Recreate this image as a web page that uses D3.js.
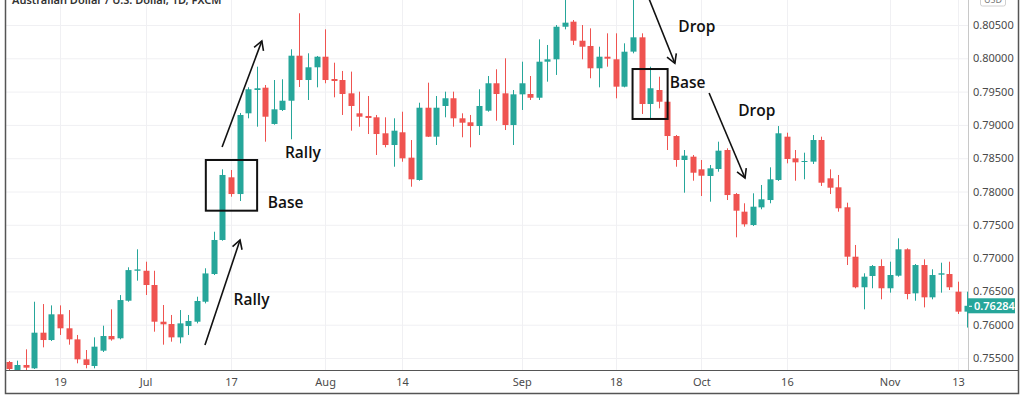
<!DOCTYPE html>
<html>
<head>
<meta charset="utf-8">
<script src="https://cdn.jsdelivr.net/npm/d3@7"></script>
<style>
  body { margin: 0; background: #fff; }
  svg { display: block; }
</style>
</head>
<body>
<div id="chart"></div>
<script>

// daily AUD/USD candles, one per trading day (Jun 9 .. Nov 14)
var opens = [0.75440,0.75320,0.75395,0.75345,0.75880,0.75770,0.76156,0.75946,0.75780,0.75480,
  0.75380,0.75610,0.75830,0.75796,0.76360,0.76810,0.76810,0.76596,0.76045,0.76010,
  0.75810,0.75980,0.76045,0.76345,0.76761,0.77272,0.78213,0.77962,0.79174,0.79524,
  0.79559,0.79014,0.79224,0.79363,0.80039,0.79674,0.79865,0.80024,0.79689,0.79674,
  0.79474,0.79174,0.79134,0.79114,0.78874,0.78698,0.78889,0.78508,0.78173,0.79258,
  0.78823,0.79284,0.79400,0.79099,0.79039,0.78983,0.79213,0.79625,0.79474,0.78998,
  0.79459,0.79464,0.79408,0.79949,0.79985,0.80474,0.80550,0.80264,0.80185,0.79850,
  0.80024,0.79985,0.79574,0.80100,0.80315,0.79314,0.79524,0.79348,0.78833,0.78473,
  0.78523,0.78333,0.78233,0.78338,0.78623,0.77962,0.77697,0.77497,0.77762,0.77872,
  0.78173,0.78823,0.78498,0.78443,0.78448,0.78773,0.78198,0.78063,0.77763,0.77021,
  0.76562,0.76731,0.76881,0.76547,0.76736,0.77132,0.76471,0.76896,0.76411,0.76751,
  0.76761,0.76496,0.76196];
var highs = [0.75455,0.75460,0.75630,0.76345,0.76310,0.76290,0.76290,0.76220,0.75846,0.75620,
  0.75810,0.75985,0.76231,0.76445,0.76862,0.77132,0.76946,0.76810,0.76296,0.76146,
  0.76220,0.76146,0.76420,0.76847,0.77396,0.78333,0.78323,0.79179,0.79565,0.79874,
  0.79599,0.79674,0.79685,0.80135,0.80676,0.80075,0.80035,0.80435,0.79934,0.79810,
  0.79800,0.79499,0.79434,0.79149,0.79114,0.79099,0.79198,0.78773,0.79333,0.79634,
  0.79434,0.79499,0.79499,0.79174,0.79149,0.79535,0.79734,0.79835,0.80000,0.79524,
  0.79949,0.79734,0.80285,0.80200,0.80500,0.80875,0.80575,0.80500,0.80450,0.80174,
  0.80375,0.80375,0.80225,0.80875,0.80375,0.79874,0.79724,0.79374,0.78848,0.78623,
  0.78548,0.78473,0.78398,0.78748,0.78649,0.77977,0.77823,0.77973,0.78098,0.78363,
  0.78983,0.78883,0.78623,0.78583,0.78848,0.78823,0.78333,0.78248,0.77832,0.77197,
  0.76772,0.76896,0.76982,0.76946,0.77297,0.77147,0.76911,0.76982,0.76832,0.76931,
  0.76946,0.76646,0.76496];
var lows = [0.75320,0.75320,0.75320,0.75335,0.75660,0.75755,0.75846,0.75700,0.75420,0.75345,
  0.75345,0.75590,0.75760,0.75780,0.76345,0.76661,0.76446,0.75895,0.75700,0.75745,
  0.75720,0.75846,0.76020,0.76320,0.76746,0.77261,0.77922,0.77857,0.79099,0.78973,
  0.78748,0.79003,0.79209,0.78784,0.79569,0.79374,0.79564,0.79625,0.79414,0.79149,
  0.78913,0.78973,0.78863,0.78548,0.78663,0.78372,0.78447,0.78072,0.78162,0.78818,
  0.78698,0.79114,0.78973,0.78814,0.78663,0.78848,0.79198,0.79063,0.78923,0.78698,
  0.79224,0.79374,0.79374,0.79649,0.79750,0.80435,0.80200,0.79985,0.79700,0.79564,
  0.79874,0.79399,0.79564,0.80075,0.79164,0.79084,0.79249,0.78623,0.78372,0.77982,
  0.78162,0.77932,0.77847,0.78297,0.77872,0.77312,0.77472,0.77482,0.77733,0.77823,
  0.78158,0.78423,0.78162,0.78183,0.78413,0.78083,0.77962,0.77697,0.76896,0.76547,
  0.76231,0.76547,0.76381,0.76481,0.76721,0.76381,0.76360,0.76260,0.76381,0.76481,
  0.76521,0.76161,0.75957];
var closes = [0.75335,0.75395,0.75355,0.75880,0.75770,0.76156,0.75946,0.75780,0.75480,0.75395,
  0.75670,0.75830,0.75780,0.76370,0.76820,0.76830,0.76596,0.76045,0.76006,0.75810,
  0.76020,0.76056,0.76356,0.76770,0.77272,0.78248,0.77962,0.79149,0.79535,0.79550,
  0.79123,0.79234,0.79363,0.80039,0.79674,0.79865,0.80024,0.79674,0.79659,0.79464,
  0.79284,0.79123,0.79104,0.78863,0.78698,0.78913,0.78498,0.78183,0.79258,0.78823,
  0.79258,0.79400,0.79099,0.79033,0.78983,0.79284,0.79625,0.79464,0.78998,0.79459,
  0.79625,0.79408,0.79949,0.79985,0.80474,0.80535,0.80264,0.80174,0.79850,0.80024,
  0.79994,0.79574,0.80099,0.80315,0.79314,0.79550,0.79348,0.78833,0.78473,0.78538,
  0.78282,0.78237,0.78348,0.78613,0.77947,0.77712,0.77507,0.77772,0.77883,0.78183,
  0.78874,0.78488,0.78438,0.78458,0.78773,0.78132,0.78057,0.77748,0.77021,0.76562,
  0.76721,0.76881,0.76547,0.76746,0.77132,0.76461,0.76896,0.76411,0.76746,0.76772,
  0.76562,0.76196,0.76284];

var priceTicks = [0.755,0.760,0.765,0.770,0.775,0.780,0.785,0.790,0.795,0.800,0.805];
var dateTickIdx = [6,16,26,37,46,60,71,81,91,103,111];
var dateTickLabels = ["19","Jul","17","Aug","14","Sep","18","Oct","16","Nov","13"];
var lastPrice = 0.76284;

// hand drawn notes, in [candle index, price]
var boxes = [
  {x0: 23.05, x1: 29.05, p0: 0.78473, p1: 0.77712},
  {x0: 72.95, x1: 77.05, p0: 0.79839, p1: 0.79089}
];
var arrows = [
  {from: [22.95, 0.75695], to: [27.05, 0.77272]},
  {from: [24.95, 0.78668], to: [29.6, 0.80260]},
  {from: [74.7, 0.80950], to: [77.9, 0.79925]},
  {from: [81.9, 0.79479], to: [86.1, 0.78203]}
];
var notes = [
  {text: "Rally", i: 26.3, p: 0.76371},
  {text: "Base",  i: 30.3, p: 0.77827},
  {text: "Rally", i: 32.3, p: 0.78578},
  {text: "Drop",  i: 78.3, p: 0.80470},
  {text: "Base",  i: 77.3, p: 0.79629},
  {text: "Drop",  i: 85.3, p: 0.79209}
];

var W = 1024, H = 395;
var plotLeft = 5, plotRight = 968, plotBottom = 370;
var up = "#26a69a", down = "#ef5350";

var svg = d3.select("#chart").append("svg")
  .attr("width", W).attr("height", H);

var x = d3.scaleLinear().domain([0, opens.length - 1]).range([8.7, 966.5]);
var y = d3.scaleLinear().domain([0.755, 0.805]).range([358, 25]);

// grid
svg.append("g").selectAll("line.h").data(priceTicks).enter().append("line")
  .attr("x1", plotLeft).attr("x2", plotRight)
  .attr("y1", function(d) { return y(d) + 0.5 })
  .attr("y2", function(d) { return y(d) + 0.5 })
  .attr("stroke", "#f0f0f3").attr("stroke-width", 1);
svg.append("g").selectAll("line.v").data(dateTickIdx).enter().append("line")
  .attr("x1", function(d) { return Math.round(x(d)) + 0.5 })
  .attr("x2", function(d) { return Math.round(x(d)) + 0.5 })
  .attr("y1", 0).attr("y2", plotBottom)
  .attr("stroke", "#f0f0f3").attr("stroke-width", 1);

// candles
var candles = svg.append("g").selectAll("g").data(opens).enter().append("g");
candles.append("line")
  .attr("x1", function(d, i) { return Math.round(x(i)) + 0.5 })
  .attr("x2", function(d, i) { return Math.round(x(i)) + 0.5 })
  .attr("y1", function(d, i) { return y(highs[i]) })
  .attr("y2", function(d, i) { return y(lows[i]) })
  .attr("stroke", function(d, i) { return closes[i] >= d ? up : down })
  .attr("stroke-width", 1);
candles.append("rect")
  .attr("x", function(d, i) { return Math.round(x(i)) - 2.5 })
  .attr("width", 6)
  .attr("y", function(d, i) { return y(Math.max(d, closes[i])) })
  .attr("height", function(d, i) { return Math.max(1, Math.abs(y(d) - y(closes[i]))) })
  .attr("fill", function(d, i) { return closes[i] >= d ? up : down });

// price axis
svg.append("line")
  .attr("x1", plotRight + 0.5).attr("x2", plotRight + 0.5)
  .attr("y1", 0).attr("y2", plotBottom)
  .attr("stroke", "#c8c8c8");
var yAxis = svg.append("g")
  .attr("transform", "translate(" + plotRight + ",0)")
  .call(d3.axisRight(y).tickValues(priceTicks).tickSize(0).tickPadding(5)
    .tickFormat(d3.format(".5f")));
yAxis.select(".domain").remove();
yAxis.selectAll("text")
  .attr("font-family", "'Noto Sans', sans-serif").attr("font-size", 11)
  .attr("fill", "#4a4a4a");

// last price tag
var tag = svg.append("g").attr("transform", "translate(" + plotRight + "," + y(lastPrice) + ")");
tag.append("rect").attr("x", 0).attr("y", -7.5).attr("width", 47).attr("height", 15)
  .attr("fill", up);
tag.append("line").attr("x1", 1).attr("x2", 4).attr("y1", 0.5).attr("y2", 0.5)
  .attr("stroke", "#fff");
tag.append("text").attr("x", 6).attr("y", 0).attr("dy", "0.35em")
  .attr("font-family", "'Noto Sans', sans-serif").attr("font-size", 11)
  .attr("font-weight", 600).attr("fill", "#fff")
  .text(d3.format(".5f")(lastPrice));

// time axis
var xAxis = svg.append("g")
  .attr("transform", "translate(0," + plotBottom + ")")
  .call(d3.axisBottom(x).tickValues(dateTickIdx).tickSize(0).tickPadding(8)
    .tickFormat(function(d, i) { return dateTickLabels[i] }));
xAxis.select(".domain").remove();
xAxis.selectAll("text")
  .attr("font-family", "'Noto Sans', sans-serif").attr("font-size", 11)
  .attr("fill", "#4a4a4a");
svg.append("line")
  .attr("x1", plotLeft).attr("x2", 1018)
  .attr("y1", plotBottom + 0.5).attr("y2", plotBottom + 0.5)
  .attr("stroke", "#555").attr("stroke-width", 1.2);

// frame of the screenshot
svg.append("path")
  .attr("d", "M5.5,0 V393.5 H1018.5 V0")
  .attr("fill", "none").attr("stroke", "#555").attr("stroke-width", 1.5);

// header, cut by the top edge
svg.append("text").attr("x", 12).attr("y", 4)
  .attr("font-family", "'Noto Sans', sans-serif").attr("font-size", 11)
  .attr("font-weight", 600).attr("fill", "#333")
  .text("Australian Dollar / U.S. Dollar, 1D, FXCM");
svg.append("rect").attr("x", 980.5).attr("y", -8).attr("width", 25).attr("height", 14)
  .attr("rx", 2).attr("fill", "#fff").attr("stroke", "#d0d0d0");
svg.append("text").attr("x", 993).attr("y", 3).attr("text-anchor", "middle")
  .attr("font-family", "'Noto Sans', sans-serif").attr("font-size", 9)
  .attr("fill", "#777").text("USD");

// annotations
var notesG = svg.append("g");
notesG.selectAll("rect").data(boxes).enter().append("rect")
  .attr("x", function(d) { return x(d.x0) })
  .attr("y", function(d) { return y(d.p0) })
  .attr("width", function(d) { return x(d.x1) - x(d.x0) })
  .attr("height", function(d) { return y(d.p1) - y(d.p0) })
  .attr("fill", "none").attr("stroke", "#111").attr("stroke-width", 2);

arrows.forEach(function(a) {
  var x1 = x(a.from[0]), y1 = y(a.from[1]);
  var x2 = x(a.to[0]), y2 = y(a.to[1]);
  var ang = Math.atan2(y2 - y1, x2 - x1);
  var len = 10, spread = Math.PI / 6;
  notesG.append("line")
    .attr("x1", x1).attr("y1", y1).attr("x2", x2).attr("y2", y2)
    .attr("stroke", "#111").attr("stroke-width", 1.6);
  notesG.append("path")
    .attr("d", "M" + (x2 - len * Math.cos(ang - spread)) + "," + (y2 - len * Math.sin(ang - spread)) +
      " L" + x2 + "," + y2 +
      " L" + (x2 - len * Math.cos(ang + spread)) + "," + (y2 - len * Math.sin(ang + spread)))
    .attr("fill", "none").attr("stroke", "#111").attr("stroke-width", 1.6);
});

notesG.selectAll("text").data(notes).enter().append("text")
  .attr("x", function(d) { return x(d.i) })
  .attr("y", function(d) { return y(d.p) })
  .attr("dy", "0.35em")
  .attr("font-family", "'Open Sans', sans-serif").attr("font-size", 15.5)
  .attr("font-weight", 600).attr("fill", "#111")
  .text(function(d) { return d.text });

</script>
</body>
</html>
